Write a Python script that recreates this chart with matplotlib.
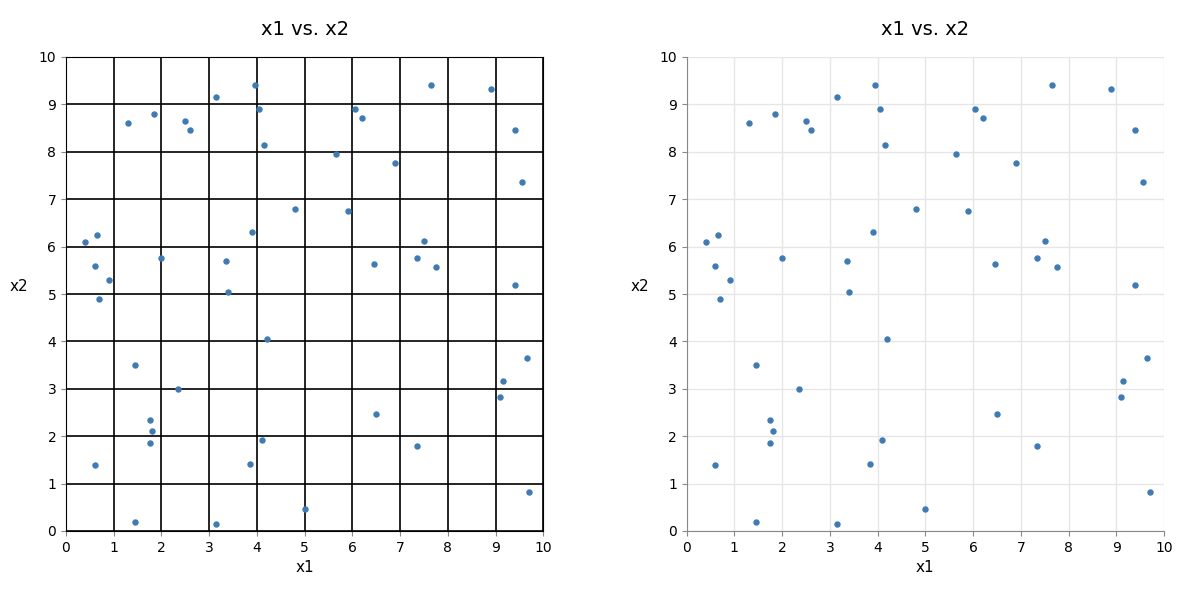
import matplotlib
matplotlib.use('Agg')
import matplotlib.pyplot as plt

x1 = [0.4, 0.65, 0.6, 0.9, 0.7, 0.6, 1.3, 1.85, 2.5, 2.6, 3.15, 3.95, 4.05, 4.15,
      1.45, 2.0, 2.35, 1.75, 1.8, 1.75, 1.45, 3.15, 3.35, 3.4, 3.9, 4.8, 5.65, 5.9,
      6.05, 6.2, 6.9, 7.65, 8.9, 9.4, 9.55, 7.5, 7.35, 7.75, 6.45, 9.4, 4.2, 9.65,
      9.15, 9.1, 6.5, 7.35, 4.1, 3.85, 5.0, 9.7]
x2 = [6.1, 6.25, 5.6, 5.3, 4.9, 1.4, 8.6, 8.8, 8.65, 8.45, 9.15, 9.4, 8.9, 8.15,
      3.5, 5.75, 3.0, 2.35, 2.1, 1.85, 0.18, 0.14, 5.7, 5.05, 6.3, 6.8, 7.95, 6.75,
      8.9, 8.72, 7.77, 9.4, 9.33, 8.45, 7.37, 6.12, 5.75, 5.57, 5.63, 5.2, 4.05, 3.65,
      3.17, 2.82, 2.47, 1.8, 1.92, 1.42, 0.47, 0.82]
ticks = list(range(11))

fig, axes = plt.subplots(1, 2, figsize=(12, 6), dpi=100)
plt.subplots_adjust(left=0.055, right=0.97, top=0.905, bottom=0.115, wspace=0.3)

for i, ax in enumerate(axes):
    ax.scatter(x1, x2, s=13, color='#3f7bb3', zorder=3)
    ax.set_xlim(0, 10)
    ax.set_ylim(0, 10)
    ax.set_xticks(ticks)
    ax.set_yticks(ticks)
    ax.set_title('x1 vs. x2', fontsize=14, pad=16)
    ax.set_xlabel('x1', fontsize=11)
    ax.set_ylabel('x2', fontsize=11, rotation=0, labelpad=14)
    ax.tick_params(labelsize=10, color='#888888')
    if i == 0:
        ax.grid(True, color='black', linewidth=1.2)
        for s in ax.spines.values():
            s.set_color('black')
    else:
        ax.grid(True, color='#e6e6e6', linewidth=1)
        ax.spines['top'].set_visible(False)
        ax.spines['right'].set_visible(False)
        ax.spines['left'].set_color('#888888')
        ax.spines['bottom'].set_color('#888888')
    ax.set_axisbelow(True)

plt.savefig('out.png')
